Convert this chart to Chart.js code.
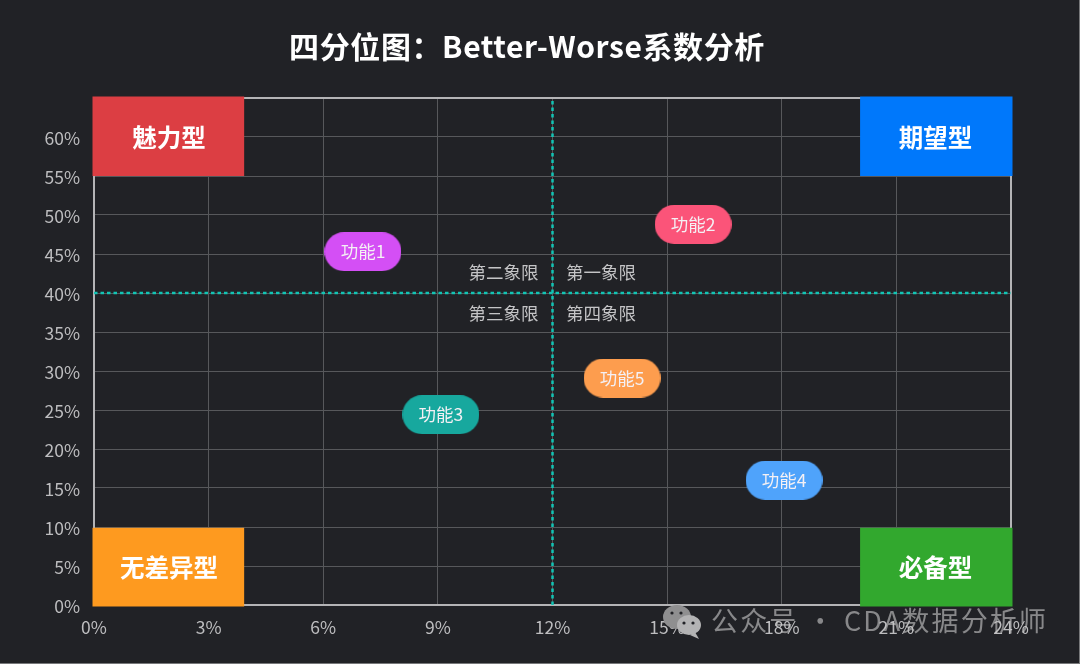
<!DOCTYPE html>
<html lang="zh">
<head>
<meta charset="utf-8">
<title>四分位图</title>
<style>
  html, body { margin: 0; width: 1080px; height: 664px; overflow: hidden; background: #212226; }
  #chartBox { position: absolute; left: 0; top: 0; width: 1080px; height: 664px; }
  #chartTitle { position: absolute; left: 0; top: 23px; width: 1054px; text-align: center; color: #fff;
          font: bold 30px/44px "Noto Sans CJK SC", sans-serif; letter-spacing: .6px; }
  #mark { position: absolute; left: 662px; top: 599px; width: 400px; height: 44px; color: rgba(205,205,205,.6);
          font: 27px "Noto Sans CJK SC", sans-serif; letter-spacing: 2.15px; line-height: 42px; white-space: nowrap; }
  #mark svg { position: absolute; left: 0; top: 4px; }
  #mark span { position: absolute; left: 49px; top: 0; }
  #edge { position: absolute; left: 0; top: 0; width: 1079px; height: 663px; border-right: 1px solid #77787a; border-bottom: 1px solid #77787a; }
</style>
</head>
<body>
<div id="chartBox"><canvas id="chart"></canvas></div>
<div id="chartTitle">四分位图：Better-Worse系数分析</div>
<div id="mark">
  <svg width="42" height="38" viewBox="0 0 42 38">
    <ellipse cx="15" cy="14" rx="14" ry="12" fill="#8f8f90"/>
    <ellipse cx="27" cy="22" rx="12" ry="10" fill="#b3b3b4"/>
    <path d="M33 29l4 7-9-4z" fill="#b3b3b4"/>
    <circle cx="22" cy="20" r="1.6" fill="#212226"/><circle cx="31" cy="20" r="1.6" fill="#212226"/>
    <circle cx="10" cy="10" r="1.6" fill="#212226"/><circle cx="19" cy="10" r="1.6" fill="#212226"/>
  </svg>
  <span>公众号 · CDA数据分析师</span>
</div>
<div id="edge"></div>
<script src="https://cdn.jsdelivr.net/npm/chart.js@4"></script>
<script>
const FONT = '"Noto Sans CJK SC", "Noto Sans", sans-serif';

// features (x = worse %, y = better %)
const featureNames = ['功能1', '功能2', '功能3', '功能4', '功能5'];
const featureX = [7.04, 15.68, 9.08, 18.06, 13.82];
const featureY = [45.3, 48.8, 24.4, 16.0, 29.1];
const featureColors = ['#d44ff5', '#fb5479', '#17a89e', '#4fa3fb', '#fd9d4e'];

// quadrant split
const splitX = 12;
const splitY = 40;
const quadrantNames = ['第一象限', '第二象限', '第三象限', '第四象限'];
const quadrantX = [13.27, 10.72, 10.72, 13.27];
const quadrantY = [42.6, 42.6, 37.4, 37.4];

// corner blocks
const blockNames = ['魅力型', '期望型', '无差异型', '必备型'];
const blockX0 = [0, 20.05, 0, 20.05];
const blockX1 = [3.93, 24, 3.93, 24];
const blockY0 = [55, 55, 0, 0];
const blockY1 = [65, 65, 9.9, 9.9];
const blockColors = ['#dc3e43', '#0078fb', '#fe9a1f', '#32a82e'];

const xMax = 24;
const yMax = 65;
const yHidden = 65;

/* -----------------------------
   Pill used as point style
------------------------------ */
function makePill(color) {
  const c = document.createElement('canvas');
  c.width = 77;
  c.height = 39;
  const ctx = c.getContext('2d');
  ctx.fillStyle = color;
  ctx.beginPath();
  ctx.roundRect(0, 0, 77, 39, 19.5);
  ctx.fill();
  return c;
}

/* -----------------------------
   Frame, corner blocks, labels
------------------------------ */
const decorPlugin = {
  id: 'decor',
  beforeDatasetsDraw(chart) {
    const { ctx, chartArea: a, scales: { x, y } } = chart;
    ctx.save();
    ctx.strokeStyle = '#b4b4b6';
    ctx.lineWidth = 2;
    ctx.strokeRect(a.left, a.top, a.right - a.left, a.bottom - a.top);
    blockNames.forEach((name, i) => {
      const l = x.getPixelForValue(blockX0[i]);
      const r = x.getPixelForValue(blockX1[i]);
      const t = y.getPixelForValue(blockY1[i]);
      const b = y.getPixelForValue(blockY0[i]);
      // grow past the frame line on the sides that sit on it
      const l2 = blockX0[i] === 0 ? l - 1.5 : l;
      const r2 = blockX1[i] === xMax ? r + 1.5 : r;
      const t2 = blockY1[i] === yMax ? t - 1.5 : t;
      const b2 = blockY0[i] === 0 ? b + 1.5 : b;
      ctx.fillStyle = blockColors[i];
      ctx.fillRect(l2, t2, r2 - l2, b2 - t2);
      ctx.fillStyle = '#fff';
      ctx.font = 'bold 24.5px ' + FONT;
      ctx.textAlign = 'center';
      ctx.textBaseline = 'middle';
      ctx.fillText(name, (l + r) / 2, (t + b) / 2 + 1);
    });
    ctx.restore();
  },
  afterDatasetsDraw(chart) {
    const { ctx, scales: { x, y } } = chart;
    ctx.save();
    ctx.textAlign = 'center';
    ctx.textBaseline = 'middle';
    ctx.font = '17.5px ' + FONT;
    ctx.fillStyle = '#f4f0f4';
    featureNames.forEach((name, i) => {
      ctx.fillText(name, x.getPixelForValue(featureX[i]), y.getPixelForValue(featureY[i]));
    });
    ctx.fillStyle = '#c4c4c6';
    ctx.font = '17.5px ' + FONT;
    quadrantNames.forEach((name, i) => {
      ctx.fillText(name, x.getPixelForValue(quadrantX[i]), y.getPixelForValue(quadrantY[i]));
    });
    ctx.restore();
  }
};

/* -----------------------------
   Chart
------------------------------ */
const dashLine = (data) => ({
  type: 'scatter',
  data,
  showLine: true,
  borderColor: '#12c4b4',
  borderWidth: 2.5,
  borderDash: [3.5, 3],
  pointRadius: 0
});

new Chart(document.getElementById('chart'), {
  type: 'scatter',
  data: {
    datasets: [
      dashLine([{ x: 0, y: splitY }, { x: xMax, y: splitY }]),
      dashLine([{ x: splitX, y: 0 }, { x: splitX, y: yMax }]),
      {
        data: featureNames.map((_, i) => ({ x: featureX[i], y: featureY[i] })),
        pointStyle: featureColors.map(makePill),
        pointRadius: 20
      }
    ]
  },
  options: {
    responsive: true,
    maintainAspectRatio: false,
    animation: false,
    layout: { padding: { top: 98, right: 69 } },
    plugins: {
      legend: { display: false },
      tooltip: { enabled: false },
      title: { display: false }
    },
    scales: {
      x: {
        type: 'linear',
        min: 0,
        max: xMax,
        afterFit: s => { s.height = 59; },
        border: { color: '#b4b4b6', width: 2 },
        grid: { color: '#57585b', lineWidth: 1, drawTicks: false },
        ticks: {
          stepSize: 3,
          padding: 12,
          maxRotation: 0,
          color: '#bdbdbf',
          font: { family: FONT, size: 17.5 },
          callback: v => v + '%'
        }
      },
      y: {
        type: 'linear',
        min: 0,
        max: yMax,
        afterFit: s => { s.width = 94; },
        border: { color: '#b4b4b6', width: 2 },
        grid: { color: '#57585b', lineWidth: 1, drawTicks: false },
        ticks: {
          stepSize: 5,
          padding: 14,
          labelOffset: 1.5,
          color: '#bdbdbf',
          font: { family: FONT, size: 17.5 },
          callback: v => (v === yHidden ? '' : v + '%')
        }
      }
    }
  },
  plugins: [decorPlugin]
});
</script>
</body>
</html>
